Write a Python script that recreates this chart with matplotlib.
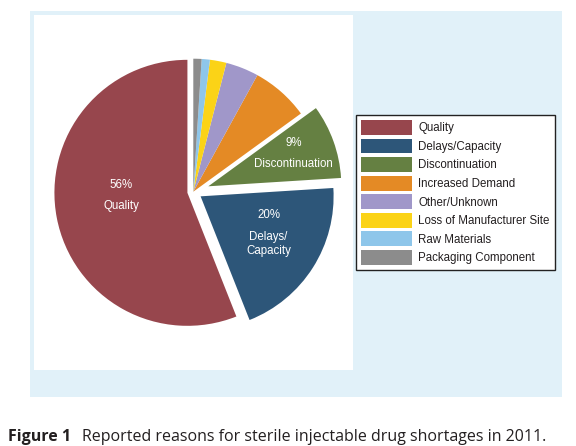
import matplotlib
matplotlib.use("Agg")
import matplotlib.pyplot as plt
from matplotlib.patches import Rectangle
import numpy as np

# data
names = ["Quality", "Delays/Capacity", "Discontinuation", "Increased Demand",
         "Other/Unknown", "Loss of Manufacturer Site", "Raw Materials",
         "Packaging Component"]
shares = [56, 20, 9, 7, 4, 2, 1, 1]
inside_labels = {0: "Quality", 1: "Delays/\nCapacity", 2: "Discontinuation"}

colors = ["#97464d", "#2d5679", "#658042", "#e48a25",
          "#a097c9", "#fbd317", "#8ec6ea", "#8c8c8c"]
explode = [0.045, 0.065, 0.12, 0, 0, 0, 0, 0]
# where the percentage sits in each labelled slice: (angle deg, radius frac)
label_spots = {0: (173, 0.50), 1: (-15, 0.53), 2: (27, 0.72)}

W, H = 576, 446
fig = plt.figure(figsize=(W / 100, H / 100), dpi=100)

# light blue panel behind the chart
panel = Rectangle((30 / W, 1 - 397 / H), 532 / W, 386 / H,
                  transform=fig.transFigure, facecolor="#e1f1f9",
                  edgecolor="none", zorder=0)
fig.add_artist(panel)

ax = fig.add_axes([34 / W, 1 - 370 / H, 319 / W, 355 / H], zorder=1)
wedges, _ = ax.pie(shares, colors=colors, explode=explode, startangle=90,
                   counterclock=True, radius=1, frame=True)
ax.set_facecolor("white")
ax.set_xticks([])
ax.set_yticks([])
for s in ax.spines.values():
    s.set_visible(False)
ax.set_aspect("auto")
cx, cy, r = 193.3, 191.7, 133.0
ax.set_xlim((34 - cx) / r, (353 - cx) / r)
ax.set_ylim((cy - 370) / r, (cy - 15) / r)

lab_font = dict(family="Liberation Sans", size=8.3, color="white")
for i, txt in inside_labels.items():
    w = wedges[i]
    ang, frac = label_spots[i]
    x0, y0 = w.center
    px = x0 + frac * np.cos(np.radians(ang))
    py = y0 + frac * np.sin(np.radians(ang))
    ax.annotate(f"{shares[i]}%", (px, py), ha="center", va="center", **lab_font)
    if "\n" in txt:
        ax.annotate(txt, (px, py), xytext=(0, -12), textcoords="offset points",
                    ha="center", va="top", linespacing=1.2, **lab_font)
    else:
        ax.annotate(txt, (px, py), xytext=(0, -15), textcoords="offset points",
                    ha="center", va="center", **lab_font)

leg = ax.legend(wedges, names, loc="upper left",
                bbox_to_anchor=(356 / W, 1 - 115 / H),
                bbox_transform=fig.transFigure, borderaxespad=0,
                fancybox=False, framealpha=1, edgecolor="#222222",
                prop=dict(family="Liberation Sans", size=8.3),
                handlelength=4.45, handleheight=1.59, handletextpad=0.5,
                labelspacing=0.33, borderpad=0.45)
leg.get_frame().set_linewidth(1.0)
for t in leg.get_texts():
    t.set_color("#231f20")

fig.text(8 / W, 1 - 441 / H, "Figure 1", family="Open Sans", weight="bold",
         size=11.5, va="baseline", color="#231f20")
fig.text(82 / W, 1 - 441 / H,
         "Reported reasons for sterile injectable drug shortages in 2011.",
         family="Open Sans", size=11.5, va="baseline", color="#231f20")

fig.savefig("out.png", dpi=100)
